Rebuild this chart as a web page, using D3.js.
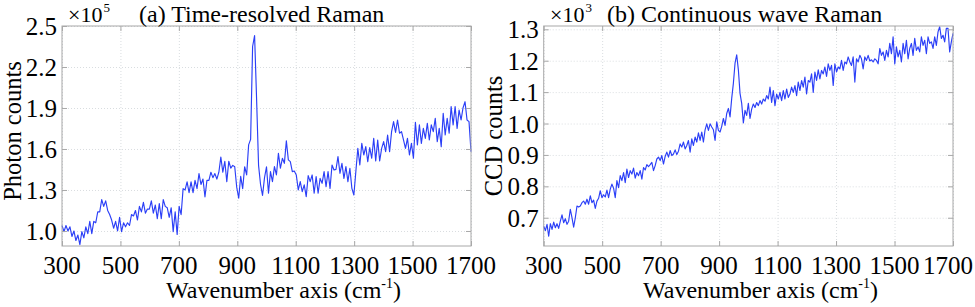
<!DOCTYPE html>
<html>
<head>
<meta charset="utf-8">
<script src="https://cdn.jsdelivr.net/npm/d3@7"></script>
<style>
  html, body { margin: 0; padding: 0; background: #fff; }
  svg { display: block; }
  text { font-family: "Liberation Serif", Tinos, "Times New Roman", Times, "Nimbus Roman", "DejaVu Serif", serif; fill: #000; }
</style>
</head>
<body>
<svg id="chart" width="975" height="307"></svg>
<script>
// ---------------- data ----------------
const wavenumberRange = [300, 1700];
const wavenumberTicks = [300, 500, 700, 900, 1100, 1300, 1500, 1700];
const photonTicks = [1.0, 1.3, 1.6, 1.9, 2.2, 2.5];
const ccdTicks = [0.7, 0.8, 0.9, 1.0, 1.1, 1.2, 1.3];

const panelTitles = ["(a) Time-resolved Raman", "(b) Continuous wave Raman"];
const yLabels = ["Photon counts", "CCD counts"];
const exponents = ["5", "3"];

// (a) photon counts, in units of 10^5, evenly sampled from 300 to 1700 cm^-1
const photonCounts = [
  1.04, 0.995, 1.04, 1.0, 1.03, 0.96, 1.0, 0.93, 0.97, 0.90,
  0.995, 0.95, 1.03, 0.98, 1.07, 0.98, 1.07, 1.06, 1.14, 1.14,
  1.23, 1.18, 1.22, 1.15, 1.12, 1.08, 1.02, 1.07, 1.0, 1.10,
  0.995, 1.06, 1.03, 1.06, 1.04, 1.12, 1.11, 1.15, 1.08, 1.18,
  1.14, 1.21, 1.13, 1.16, 1.16, 1.22, 1.13, 1.19, 1.09, 1.20,
  1.09, 1.23, 1.18, 1.17, 1.10, 1.17, 0.995, 1.14, 0.975, 1.18,
  1.12, 1.31, 1.30, 1.36, 1.28, 1.36, 1.28, 1.37, 1.31, 1.42,
  1.34, 1.38, 1.25, 1.37, 1.37, 1.43, 1.39, 1.42, 1.38, 1.43,
  1.54, 1.43, 1.51, 1.36, 1.51, 1.46, 1.48, 1.47, 1.32, 1.24,
  1.40, 1.31, 1.47, 1.41, 1.63, 1.67, 2.35, 2.43, 1.97, 1.48,
  1.34, 1.26, 1.39, 1.47,
  1.276, 1.434, 1.361, 1.471, 1.41, 1.568, 1.459, 1.532, 1.495, 1.659,
  1.52, 1.507, 1.434, 1.439, 1.41, 1.30, 1.361, 1.288, 1.337, 1.251,
  1.405, 1.361, 1.41, 1.276, 1.398, 1.276, 1.385, 1.349, 1.434, 1.324,
  1.434, 1.312, 1.483, 1.446, 1.451, 1.544, 1.422, 1.495, 1.385, 1.471,
  1.361, 1.459, 1.312, 1.263, 1.434, 1.605, 1.483, 1.641, 1.556, 1.617,
  1.507, 1.61, 1.532, 1.678, 1.512, 1.666, 1.512, 1.605, 1.654, 1.58,
  1.702, 1.58, 1.727, 1.80, 1.722, 1.812, 1.715, 1.727, 1.666, 1.605,
  1.678, 1.556, 1.641, 1.532, 1.795, 1.629, 1.776, 1.641, 1.751, 1.678,
  1.788, 1.666, 1.776, 1.727, 1.824, 1.654, 1.751, 1.617, 1.861, 1.702,
  1.824, 1.715, 1.91, 1.776, 1.91, 1.751, 1.885, 1.812, 1.902, 1.946,
  1.812, 1.80, 1.58
];

// (b) CCD counts, in units of 10^3, evenly sampled from 300 to 1700 cm^-1
const ccdCounts = [
  0.673, 0.659, 0.679, 0.641, 0.681, 0.663, 0.686, 0.668, 0.681, 0.666,
  0.689, 0.709, 0.684, 0.697, 0.679, 0.689, 0.727, 0.700, 0.670, 0.700,
  0.737, 0.734, 0.737, 0.748, 0.753, 0.743, 0.759, 0.743, 0.770, 0.748,
  0.756, 0.730, 0.753, 0.762, 0.786, 0.764, 0.773, 0.766, 0.788, 0.764,
  0.791, 0.807, 0.794, 0.764, 0.818, 0.796, 0.834, 0.818, 0.844, 0.812,
  0.855, 0.828, 0.850, 0.839, 0.858, 0.826, 0.844, 0.834, 0.850, 0.823,
  0.860, 0.852, 0.869, 0.863, 0.869, 0.876, 0.850, 0.866, 0.887, 0.893,
  0.882, 0.898, 0.871, 0.895, 0.909, 0.893, 0.914, 0.898, 0.903, 0.916,
  0.901, 0.912, 0.935, 0.925, 0.941, 0.919, 0.930, 0.946, 0.909, 0.951,
  0.930, 0.957, 0.941, 0.970, 0.946, 0.973, 0.941, 0.980, 0.999, 0.978,
  0.999, 0.989, 0.980, 0.946, 1.005, 0.978, 0.973, 0.991, 1.016, 0.994,
  1.032, 1.048, 1.021, 1.080, 1.128, 1.192, 1.219, 1.171, 1.096, 1.064,
  1.002, 1.042, 1.026, 1.064, 1.016,
  1.046, 1.062, 1.051, 1.067, 1.057, 1.073, 1.062, 1.078, 1.071, 1.089,
  1.078, 1.116, 1.067, 1.105, 1.057, 1.094, 1.078, 1.099, 1.073, 1.105,
  1.078, 1.110, 1.083, 1.094, 1.116, 1.099, 1.121, 1.089, 1.132, 1.105,
  1.137, 1.116, 1.148, 1.094, 1.137, 1.132, 1.158, 1.099, 1.164, 1.137,
  1.171, 1.142, 1.169, 1.158, 1.180, 1.150, 1.190, 1.169, 1.185, 1.121,
  1.190, 1.164, 1.180, 1.174, 1.201, 1.169, 1.196, 1.190, 1.212, 1.196,
  1.185, 1.212, 1.132, 1.206, 1.196, 1.217, 1.206, 1.174, 1.212, 1.201,
  1.217, 1.199, 1.203, 1.196, 1.206, 1.201, 1.190, 1.239, 1.217, 1.228,
  1.201, 1.233, 1.212, 1.255, 1.222, 1.276, 1.190, 1.244, 1.212, 1.233,
  1.196, 1.255, 1.222, 1.265, 1.206, 1.239, 1.255, 1.217, 1.271, 1.233,
  1.244, 1.228, 1.276, 1.249, 1.265, 1.222, 1.276, 1.255, 1.260, 1.239,
  1.276, 1.249, 1.292, 1.308, 1.271, 1.281, 1.260, 1.303, 1.303, 1.228,
  1.260, 1.287
];

// ---------------- drawing ----------------
const svg = d3.select("#chart");
const W = 975;

const panels = [
  { left: 62, right: 471, top: 26, bottom: 246, yDomain: [0.89, 2.5], yTicks: photonTicks,
    values: photonCounts, title: panelTitles[0], ylabel: yLabels[0], exp: exponents[0],
    titleX: 139, expX: 68, ylabelX: 21, ylabelY: 131, xlabelX: 166 },
  { left: 543.7, right: 953, top: 26, bottom: 246, yDomain: [0.61, 1.3105], yTicks: ccdTicks,
    values: ccdCounts, title: panelTitles[1], ylabel: yLabels[1], exp: exponents[1],
    titleX: 607, expX: 550, ylabelX: 502, ylabelY: 136, xlabelX: 643 }
];

const frameColor = "#a8a8a8";
const gridColor = "#d9dde0";

panels.forEach(p => {
  const x = d3.scaleLinear().domain(wavenumberRange).range([p.left, p.right]);
  const y = d3.scaleLinear().domain(p.yDomain).range([p.bottom, p.top]);
  const w = p.right - p.left, h = p.bottom - p.top;
  const g = svg.append("g");

  // grid (dotted)
  const gx = g.append("g").attr("transform", `translate(0,${p.bottom})`)
    .call(d3.axisBottom(x).tickValues(wavenumberTicks).tickSize(-h).tickFormat(""));
  const gy = g.append("g").attr("transform", `translate(${p.left},0)`)
    .call(d3.axisLeft(y).tickValues(p.yTicks).tickSize(-w).tickFormat(""));
  [gx, gy].forEach(a => {
    a.select(".domain").remove();
    a.selectAll(".tick line").attr("stroke", gridColor).attr("stroke-width", 1)
      .attr("stroke-dasharray", "1,2");
  });

  // data line
  const n = p.values.length;
  const step = (wavenumberRange[1] - wavenumberRange[0]) / (n - 1);
  const line = d3.line()
    .x((d, i) => x(wavenumberRange[0] + i * step))
    .y(d => y(d));
  g.append("path").datum(p.values)
    .attr("d", line)
    .attr("fill", "none")
    .attr("stroke", "#2b3ff7")
    .attr("stroke-width", 1.15)
    .attr("stroke-linejoin", "round");

  // inward ticks on all four sides
  const tl = 5;
  const axB = g.append("g").attr("transform", `translate(0,${p.bottom})`)
    .call(d3.axisBottom(x).tickValues(wavenumberTicks).tickSize(-tl).tickFormat(""));
  const axT = g.append("g").attr("transform", `translate(0,${p.top})`)
    .call(d3.axisTop(x).tickValues(wavenumberTicks).tickSize(-tl).tickFormat(""));
  const axL = g.append("g").attr("transform", `translate(${p.left},0)`)
    .call(d3.axisLeft(y).tickValues(p.yTicks).tickSize(-tl).tickFormat(""));
  const axR = g.append("g").attr("transform", `translate(${p.right},0)`)
    .call(d3.axisRight(y).tickValues(p.yTicks).tickSize(-tl).tickFormat(""));
  [axB, axT, axL, axR].forEach(a => {
    a.select(".domain").remove();
    a.selectAll(".tick line").attr("stroke", frameColor);
  });

  // frame
  g.append("rect").attr("x", p.left).attr("y", p.top).attr("width", w).attr("height", h)
    .attr("fill", "none").attr("stroke", frameColor).attr("stroke-width", 1);

  // tick labels
  g.selectAll(".xl").data(wavenumberTicks).enter().append("text")
    .attr("x", d => x(d)).attr("y", 274)
    .attr("text-anchor", "middle").attr("font-size", 25)
    .text(d => d)
    .each(function () {
      // keep labels inside the picture
      const bb = this.getBBox();
      const over = bb.x + bb.width - (W - 2);
      if (over > 0) d3.select(this).attr("x", +d3.select(this).attr("x") - over);
    });
  g.selectAll(".yl").data(p.yTicks).enter().append("text")
    .attr("x", p.left - 5).attr("y", d => y(d)).attr("dy", "0.36em")
    .attr("text-anchor", "end").attr("font-size", 25)
    .text(d => d3.format(".1f")(d));

  // exponent multiplier
  const ex = g.append("text").attr("x", p.expX).attr("y", 22)
    .attr("font-size", 22);
  ex.append("tspan").text("\u00d710");
  ex.append("tspan").attr("font-size", 13).attr("dy", -10).attr("dx", 1).text(p.exp);

  // title
  g.append("text").attr("x", p.titleX).attr("y", 21.5)
    .attr("font-size", 24).text(p.title);

  // y label
  g.append("text")
    .attr("transform", `translate(${p.ylabelX},${p.ylabelY}) rotate(-90)`)
    .attr("text-anchor", "middle").attr("font-size", 24.5)
    .text(p.ylabel);

  // x label
  const xl = g.append("text").attr("x", p.xlabelX).attr("y", 298)
    .attr("font-size", 24);
  xl.append("tspan").text("Wavenumber axis (cm");
  xl.append("tspan").attr("font-size", 14).attr("dy", -10).text("-1");
  xl.append("tspan").attr("dy", 10).text(")");
});
</script>
</body>
</html>
